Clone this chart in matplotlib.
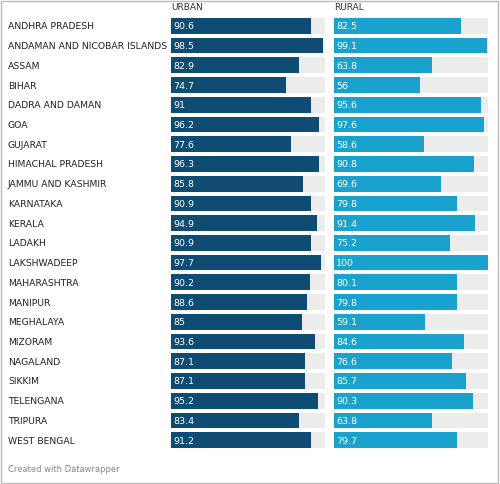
import matplotlib
matplotlib.use("Agg")
import matplotlib.pyplot as plt
from matplotlib.patches import Rectangle
import matplotlib.transforms as mt

states = ["ANDHRA PRADESH","ANDAMAN AND NICOBAR ISLANDS","ASSAM","BIHAR","DADRA AND DAMAN","GOA",
          "GUJARAT","HIMACHAL PRADESH","JAMMU AND KASHMIR","KARNATAKA","KERALA","LADAKH","LAKSHWADEEP",
          "MAHARASHTRA","MANIPUR","MEGHALAYA","MIZORAM","NAGALAND","SIKKIM","TELENGANA","TRIPURA","WEST BENGAL"]
urban = [90.6,98.5,82.9,74.7,91,96.2,77.6,96.3,85.8,90.9,94.9,90.9,97.7,90.2,88.6,85,93.6,87.1,87.1,95.2,83.4,91.2]
rural = [82.5,99.1,63.8,56,95.6,97.6,58.6,90.8,69.6,79.8,91.4,75.2,100,80.1,79.8,59.1,84.6,76.6,85.7,90.3,63.8,79.7]
urban_labels = ["90.6","98.5","82.9","74.7","91","96.2","77.6","96.3","85.8","90.9","94.9","90.9","97.7","90.2","88.6","85","93.6","87.1","87.1","95.2","83.4","91.2"]
rural_labels = ["82.5","99.1","63.8","56","95.6","97.6","58.6","90.8","69.6","79.8","91.4","75.2","100","80.1","79.8","59.1","84.6","76.6","85.7","90.3","63.8","79.7"]

W, H = 500, 485
fig = plt.figure(figsize=(5, 4.85), dpi=100)
fig.patch.set_facecolor("white")
fig.add_artist(Rectangle((1/W, 1/H), 1-3/W, 1-3/H, transform=fig.transFigure,
                         fill=False, edgecolor="#bbbbbb", lw=1))

top, bot = 17, 451
n = len(states)
cols = [(171, urban, urban_labels, "#0f4c73", "URBAN"), (334, rural, rural_labels, "#1aa2cf", "RURAL")]
for i, (x0, vals, labs, col, title) in enumerate(cols):
    ax = fig.add_axes([x0/W, 1-bot/H, 154/W, (bot-top)/H])
    ax.set_xlim(0, 100)
    ax.set_ylim(n-0.5, -0.5)
    ax.axis("off")
    ys = range(n)
    ax.barh(ys, [100]*n, height=0.8, color="#ececec")
    ax.barh(ys, vals, height=0.8, color=col)
    for y, l in zip(ys, labs):
        ax.text(1.5, y, l, color="white", fontsize=6.8, va="center", ha="left")
    ax.text(0, -0.75, title, fontsize=6.5, color="#333333", va="bottom", ha="left")
    if i == 0:
        tr = mt.blended_transform_factory(fig.transFigure, ax.transData)
        for y, s in zip(ys, states):
            ax.text(8/W, y, s, transform=tr, fontsize=6.7, color="#222222", va="center", ha="left")

fig.text(8/W, 1-470/H, "Created with Datawrapper", fontsize=6, color="#888888", va="center")
fig.savefig("out.png", dpi=100)
